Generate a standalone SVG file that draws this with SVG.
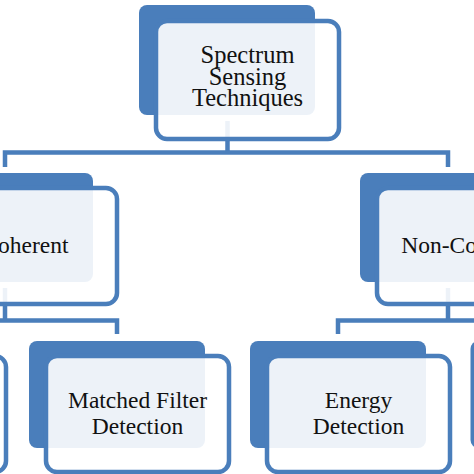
<svg xmlns="http://www.w3.org/2000/svg" width="474" height="474" viewBox="0 0 474 474">
<style>
.bk{fill:#4a7ebb}
.fr{fill:#ffffff;fill-opacity:0.9;stroke:#4a7ebb;stroke-width:4.5}
.cn{fill:none;stroke:#4a7ebb;stroke-width:4.5}
.tx{font-family:"Liberation Serif","Times New Roman",serif;font-size:23.5px;fill:#111;text-anchor:middle}
</style>
<rect width="474" height="474" fill="#ffffff"/>
<g id="connectors">
<path class="cn" d="M227.5,121 V152.5 M5,152.5 H448 M5,150.3 V167 M448,150.3 V167"/>
<path class="cn" d="M5,288 V320.5 M-106,320.5 H117 M-106,318.3 V334 M117,318.3 V334"/>
<path class="cn" d="M448,288 V320.5 M338,320.5 H558 M338,318.3 V334 M558,318.3 V334"/>
</g>
<g id="root">
<rect class="bk" x="139" y="5" width="176" height="110" rx="8"/>
<rect class="fr" x="156" y="21" width="183" height="118" rx="11"/>
<text class="tx" font-size="24.5" style="font-size:24.5px"><tspan x="247.5" y="62.5">Spectrum</tspan><tspan x="247.5" y="84.5">Sensing</tspan><tspan x="247.5" y="106">Techniques</tspan></text>
</g>
<g id="coherent">
<rect class="bk" x="-83" y="173" width="176" height="109" rx="8"/>
<rect class="fr" x="-66" y="188" width="183" height="116" rx="11"/>
<text class="tx" x="25.5" y="253">Coherent</text>
</g>
<g id="non-coherent">
<rect class="bk" x="360" y="173" width="176" height="109" rx="8"/>
<rect class="fr" x="377" y="188" width="183" height="116" rx="11"/>
<text class="tx" x="468.5" y="253">Non-Coherent</text>
</g>
<g id="left-child">
<rect class="bk" x="-194" y="341" width="176" height="107" rx="8"/>
<rect class="fr" x="-177" y="356" width="183" height="116" rx="11"/>
</g>
<g id="matched-filter">
<rect class="bk" x="29" y="341" width="176" height="107" rx="8"/>
<rect class="fr" x="46" y="356" width="183" height="116" rx="11"/>
<text class="tx"><tspan x="137.5" y="408">Matched Filter</tspan><tspan x="137.5" y="434">Detection</tspan></text>
</g>
<g id="energy">
<rect class="bk" x="250" y="341" width="176" height="107" rx="8"/>
<rect class="fr" x="267" y="356" width="183" height="116" rx="11"/>
<text class="tx"><tspan x="358.5" y="408">Energy</tspan><tspan x="358.5" y="434">Detection</tspan></text>
</g>
<g id="right-child">
<rect class="bk" x="470.5" y="341" width="176" height="107" rx="8"/>
<rect class="fr" x="487.5" y="356" width="183" height="116" rx="11"/>
</g>
</svg>
